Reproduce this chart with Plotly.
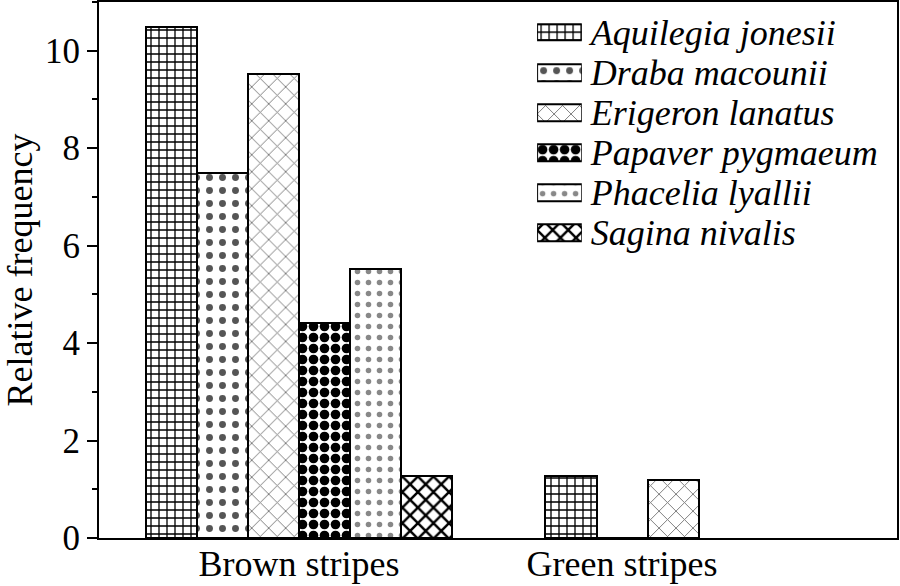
import plotly.graph_objects as go

groups = ["Brown stripes", "Green stripes"]
species = ["Aquilegia jonesii", "Draba macounii", "Erigeron lanatus",
           "Papaver pygmaeum", "Phacelia lyallii", "Sagina nivalis"]
brown = [10.48, 7.5, 9.52, 4.42, 5.53, 1.27]
green = [1.27, 0.0, 1.19, 0.0, 0.0, 0.0]
# how many bar slots each group uses
slots = [6, 3]

# pattern styles per species: (shape, fg colour, size, solidity)
styles = [
    ("+", "black", 8, 0.3),
    (".", "#555555", 13, 0.22),
    ("x", "#777777", 12, 0.15),
    (".", "black", 11, 0.6),
    (".", "#888888", 11, 0.2),
    ("x", "black", 11, 0.4),
]

width = 0.158
centers = [1, 2]
font = "Liberation Serif, Times New Roman, Times, serif"


def marker(i):
    shape, fg, size, sol = styles[i]
    return dict(color="white", line=dict(color="black", width=2),
                pattern=dict(shape=shape, fgcolor=fg, bgcolor="white",
                             size=size, solidity=sol, fillmode="replace"))


fig = go.Figure()
for i, name in enumerate(species):
    xs, ys = [], []
    for g, vals in enumerate([brown, green]):
        if i < slots[g]:
            xs.append(centers[g] + (i - (slots[g] - 1) / 2) * width)
            ys.append(vals[i])
    fig.add_trace(go.Bar(x=xs, y=ys, name=name, width=width,
                         marker=marker(i), showlegend=False))
    # legend swatch drawn on its own small axis pair
    fig.add_trace(go.Bar(x=[1], y=[name], orientation="h", width=0.42,
                         xaxis="x2", yaxis="y2", marker=marker(i),
                         showlegend=False, hoverinfo="skip"))

fig.update_layout(
    width=900, height=586,
    margin=dict(l=99, r=3, t=2, b=48),
    plot_bgcolor="white", paper_bgcolor="white",
    barmode="overlay", bargap=0,
    font=dict(family=font, size=36, color="black"),
    xaxis=dict(range=[0.381, 2.851], tickvals=centers, ticktext=groups,
               showgrid=False, zeroline=False, ticks="", automargin=False,
               showline=True, linecolor="black", linewidth=2, mirror=True,
               ticklabelstandoff=-7,
               tickfont=dict(family=font, size=36)),
    yaxis=dict(range=[0, 11], dtick=2, showgrid=False, zeroline=False,
               ticks="outside", ticklen=10, tickwidth=2, tickcolor="black",
               minor=dict(dtick=1, ticks="outside", ticklen=5, tickwidth=2, tickcolor="black"),
               showline=True, linecolor="black", linewidth=2, mirror=True,
               automargin=False,
               title=dict(text="Relative frequency", font=dict(family=font, size=36), standoff=14),
               tickfont=dict(family=font, size=35)),
    xaxis2=dict(domain=[0.549, 0.605], range=[0, 1], anchor="y2", visible=False,
                fixedrange=True),
    yaxis2=dict(domain=[0.532, 0.981], anchor="x2", side="right",
                categoryorder="array", categoryarray=species, autorange="reversed",
                tickmode="array", tickvals=species, ticktext=species,
                showgrid=False, zeroline=False, showline=False, ticks="",
                ticklabelstandoff=8, automargin=False,
                tickfont=dict(family=font, size=36, style="italic")),
)

fig.write_html("out.html", config={"displayModeBar": False},
               post_script="document.body.style.margin='0';")
